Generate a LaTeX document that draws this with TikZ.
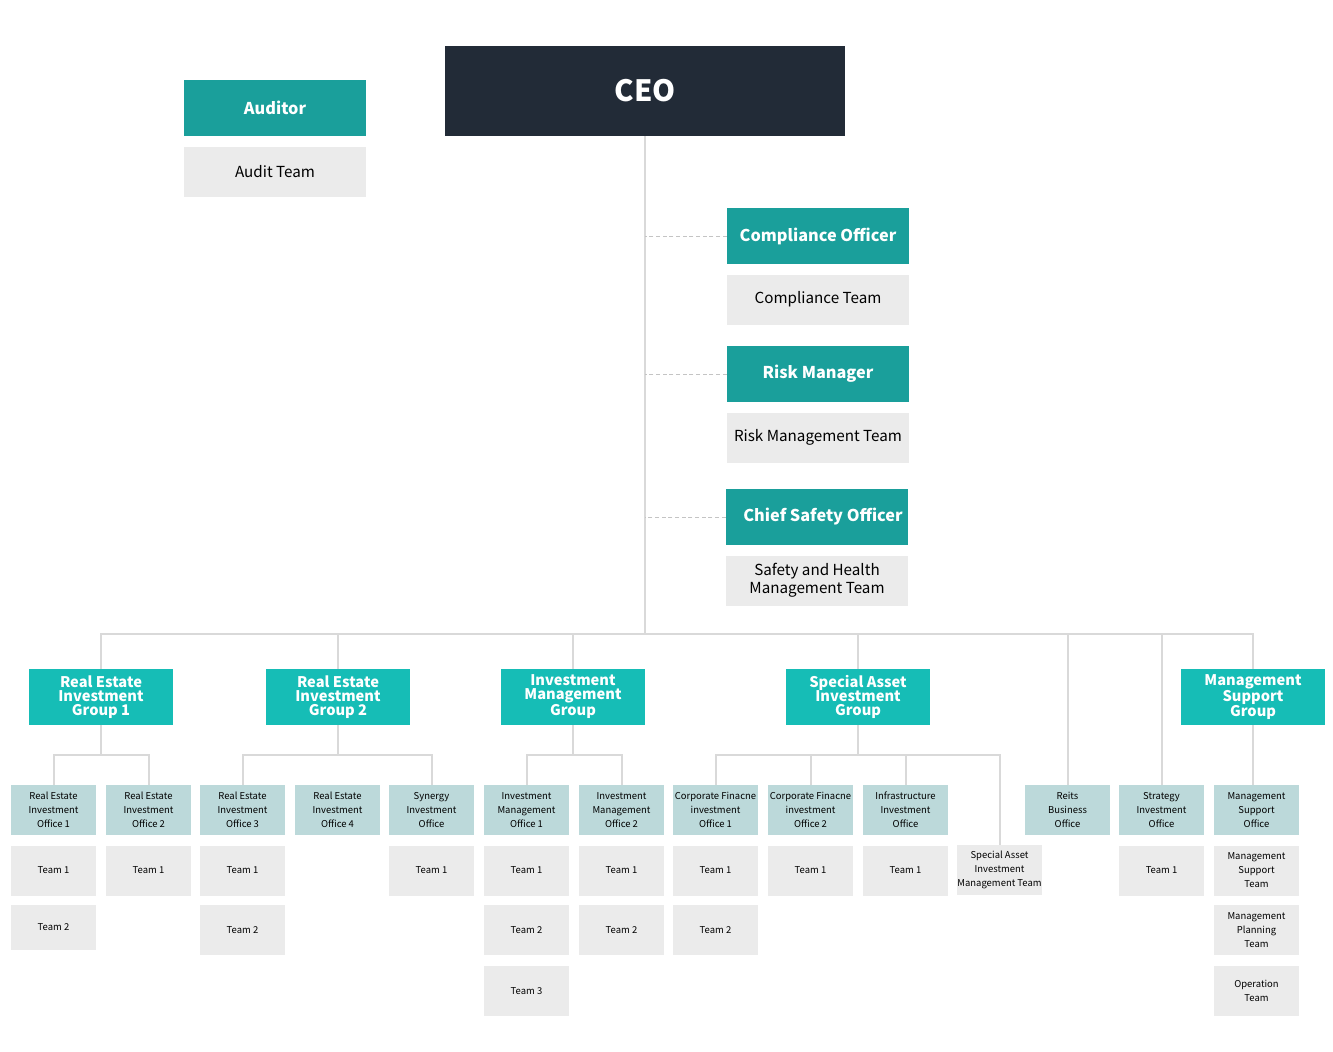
\documentclass[tikz,border=0pt]{standalone}
\usepackage{fontspec}
\setmainfont{Noto Sans CJK KR}
\usetikzlibrary{positioning}
\definecolor{ceoNavy}{HTML}{222B37}
\definecolor{offTeal}{HTML}{1A9F9B}
\definecolor{grpTeal}{HTML}{16BDB6}
\definecolor{deskBlue}{HTML}{BCD9DA}
\definecolor{teamGray}{HTML}{EBEBEB}
\definecolor{lineGray}{HTML}{D9D9D9}
\definecolor{dashGray}{HTML}{C4C4C4}

\begin{document}
\begin{tikzpicture}[
    x=0.75pt, y=-0.75pt,
    every node/.style={inner sep=0pt, align=center},
    head/.style={fill=offTeal, text=white, minimum width=136.5pt,
                 minimum height=42pt, font=\fontsize{12.2}{14}\selectfont\bfseries},
    headteam/.style={fill=teamGray, text=black, minimum width=136.5pt,
                     minimum height=37.5pt, font=\fontsize{11.4}{13.5}\selectfont},
    group/.style={fill=grpTeal, text=white, minimum width=108pt,
                  minimum height=42pt, font=\fontsize{11}{10.5}\selectfont\bfseries},
    office/.style={fill=deskBlue, minimum width=63.75pt, minimum height=37.5pt,
                   font=\fontsize{7.1}{10.5}\selectfont},
    team/.style={fill=teamGray, minimum width=63.75pt, minimum height=37.5pt,
                 font=\fontsize{7.1}{10.5}\selectfont},
    link/.style={draw=lineGray, line width=1.5pt},
    dotlink/.style={draw=dashGray, line width=0.6pt, dash pattern=on 3pt off 2pt},
  ]
  \useasboundingbox[fill=white] (0,0) rectangle (1333,1051);

  % Top - CEO and auditor
  \node[fill=ceoNavy, text=white, minimum width=300pt, minimum height=67.5pt,
        font=\fontsize{22}{26}\selectfont\bfseries] (ceo) at (645,91) {CEO};
  \node[head] (aud) at (275,108) {Auditor};
  \node[headteam, below=7.5pt of aud] (audt) {Audit Team};

  % Staff column - right of the main line
  \node[head] (co) at (818,236) {Compliance Officer};
  \node[headteam, below=7.5pt of co] (cot) {Compliance Team};
  \node[head] (rm) at (818,374) {Risk Manager};
  \node[headteam, below=7.5pt of rm] (rmt) {Risk Management Team};
  \node[head] (cso) at (817,517) {\hspace*{9pt}Chief Safety Officer};
  \node[headteam, below=7.5pt of cso] (csot) {Safety and Health\\Management Team};

  % Groups
  \node[group] (g1) at (101,697) {Real Estate\\Investment\\Group 1};
  \node[group] (g2) at (338,697) {Real Estate\\Investment\\Group 2};
  \node[group] (g3) at (573,697) {Investment\\Management\\Group};
  \node[group] (g4) at (858,697) {Special Asset\\Investment\\Group};
  \node[group] (msg) at (1253,697) {Management\\Support\\Group};

  % Offices
  \node[office] (reio1) at (53.5,810) {Real Estate\\Investment\\Office 1};
  \node[office] (reio2) at (148.5,810) {Real Estate\\Investment\\Office 2};
  \node[office] (reio3) at (242.5,810) {Real Estate\\Investment\\Office 3};
  \node[office] (reio4) at (337.5,810) {Real Estate\\Investment\\Office 4};
  \node[office] (syn) at (431.5,810) {Synergy\\Investment\\Office};
  \node[office] (imo1) at (526.5,810) {Investment\\Management\\Office 1};
  \node[office] (imo2) at (621.5,810) {Investment\\Management\\Office 2};
  \node[office] (cfio1) at (715.5,810) {Corporate Finacne\\investment\\Office 1};
  \node[office] (cfio2) at (810.5,810) {Corporate Finacne\\investment\\Office 2};
  \node[office] (infra) at (905.5,810) {Infrastructure\\Investment\\Office};
  \node[office] (rbo) at (1067.5,810) {Reits\\Business\\Office};
  \node[office] (sio) at (1161.5,810) {Strategy\\Investment\\Office};
  \node[office] (mso) at (1256.5,810) {Management\\Support\\Office};

  % Teams
  \node[team, below=7.5pt of reio1] (reio1t1) {Team 1};
  \node[team, below=6.75pt of reio1t1, minimum height=33.75pt] (reio1t2) {Team 2};
  \node[team, below=7.5pt of reio2] (reio2t1) {Team 1};
  \node[team, below=7.5pt of reio3] (reio3t1) {Team 1};
  \node[team, below=6.75pt of reio3t1] (reio3t2) {Team 2};
  \node[team, below=7.5pt of syn] (synt1) {Team 1};
  \node[team, below=7.5pt of imo1] (imo1t1) {Team 1};
  \node[team, below=6.75pt of imo1t1] (imo1t2) {Team 2};
  \node[team, below=7.5pt of imo1t2] (imo1t3) {Team 3};
  \node[team, below=7.5pt of imo2] (imo2t1) {Team 1};
  \node[team, below=6.75pt of imo2t1] (imo2t2) {Team 2};
  \node[team, below=7.5pt of cfio1] (cfio1t1) {Team 1};
  \node[team, below=6.75pt of cfio1t1] (cfio1t2) {Team 2};
  \node[team, below=7.5pt of cfio2] (cfio2t1) {Team 1};
  \node[team, below=7.5pt of infra] (infrat1) {Team 1};
  \node[team] (saimt) at (999.5,870) {Special Asset\\Investment\\Management Team};
  \node[team, below=7.5pt of sio] (siot1) {Team 1};
  \node[team, below=7.5pt of mso] (msst) {Management\\Support\\Team};
  \node[team, below=6.75pt of msst] (mspt) {Management\\Planning\\Team};
  \node[team, below=7.5pt of mspt] (opt) {Operation\\Team};

  % Connectors
  \coordinate (bus) at (644,634);
  \coordinate (sb) at (0,755);
  \draw[link] (ceo.south) -- (ceo.south |- bus);
  \draw[link] (g1.north) |- (bus) -| (msg.north);
  \foreach \n in {g2,g3,g4,rbo,sio}
    \draw[link] (\n.north) -- (\n.north |- bus);
  \foreach \n in {co,rm,cso}
    \draw[dotlink] (\n.west) -- (\n.west -| ceo.south);

  \foreach \n in {g1,g2,g3,g4}
    \draw[link] (\n.south) -- (\n.south |- sb);
  \draw[link] (reio1.north) |- (sb -| reio2.north) -- (reio2.north);
  \draw[link] (reio3.north) |- (sb -| syn.north) -- (syn.north);
  \draw[link] (imo1.north) |- (sb -| imo2.north) -- (imo2.north);
  \draw[link] (cfio1.north) |- (sb -| saimt.north) -- (saimt.north);
  \draw[link] (cfio2.north) -- (cfio2.north |- sb);
  \draw[link] (infra.north) -- (infra.north |- sb);
  \draw[link] (msg.south) -- (msg.south |- mso.north);
\end{tikzpicture}
\end{document}
